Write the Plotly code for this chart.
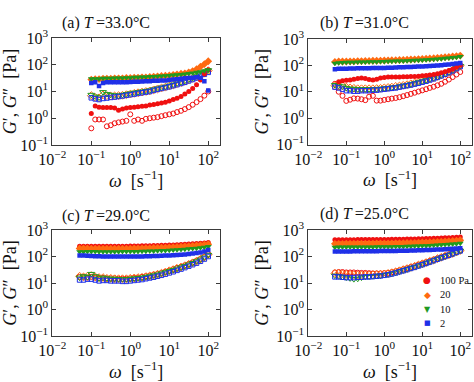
import plotly.graph_objects as go

# ---------------- data ----------------
OMEGA_A = [0.1, 0.126, 0.158, 0.2, 0.251, 0.316, 0.398, 0.501, 0.631, 0.794,
           1.0, 1.26, 1.58, 2.0, 2.51, 3.16, 3.98, 5.01, 6.31, 7.94,
           10.0, 12.6, 15.8, 20.0, 25.1, 31.6, 39.8, 50.1, 63.1, 79.4, 100.0]
OMEGA_BCD = [0.0501, 0.0631, 0.0794,
             0.1, 0.126, 0.158, 0.2, 0.251, 0.316, 0.398, 0.501, 0.631, 0.794,
             1.0, 1.26, 1.58, 2.0, 2.51, 3.16, 3.98, 5.01, 6.31, 7.94,
             10.0, 12.6, 15.8, 20.0, 25.1, 31.6, 39.8, 50.1, 63.1, 79.4, 100.0]

STRESS_LABELS = ["100 Pa", "20", "10", "2"]
TITLES = ["(a) <i>T</i>\u2009=33.0°C", "(b) <i>T</i>\u2009=31.0°C",
          "(c) <i>T</i>\u2009=29.0°C", "(d) <i>T</i>\u2009=25.0°C"]

# panel (a)  T = 33.0 C
a_red_G1 = [1.5, 2.9, 2.6, 2.5, 2.5, 2.5, 2.4, 2.0, 2.2, 2.4, 2.5, 2.6, 2.7, 2.8, 2.9, 3.1, 3.3, 3.5, 3.7, 4.0, 4.4, 5.0, 5.6, 6.5, 8.0, 10, 13, 18, 27, 45, 65]
a_org_G1 = [28, 29, 29, 30, 30, 30, 31, 31, 31, 32, 32, 33, 33, 34, 34, 35, 36, 37, 38, 39, 40, 42, 44, 46, 48, 52, 58, 68, 85, 105, 135]
a_grn_G1 = [30, 30, 30, 31, 31, 31, 32, 32, 32, 33, 33, 34, 34, 35, 35, 36, 36, 37, 38, 39, 40, 41, 42, 43, 45, 47, 49, 52, 55, 60, 65]
a_blu_G1 = [21, 22, 16, 21, 22, 22, 22, 22, 22, 22, 22.5, 23, 23, 23.5, 24, 24, 25, 25, 26, 26, 27, 28, 29, 30, 31, 32, 33, 34, 33, 24, 11]
a_red_G2 = [0.42, 0.9, 0.9, 0.9, 0.5, 0.55, 0.65, 0.7, 0.75, 0.8, 1.4, 0.8, 0.9, 0.8, 0.95, 1.0, 1.05, 1.1, 1.2, 1.3, 1.4, 1.5, 1.7, 1.9, 2.2, 2.6, 3.2, 4.0, 5.2, 7.0, 10]
a_org_G2 = [7.0, 6.0, 5.8, 7.5, 7.0, 6.8, 6.8, 7.0, 7.2, 7.6, 8.0, 8.5, 9.0, 9.5, 10, 10.5, 11.5, 12.5, 13.5, 14.5, 16, 17.5, 19.5, 21.5, 24, 27, 31, 36, 42, 50, 60]
a_grn_G2 = [7.5, 6.5, 6.0, 9.5, 8.0, 7.5, 7.2, 7.0, 7.5, 8.0, 8.5, 9.0, 9.5, 10, 10.5, 11, 12, 13, 14, 15, 16.5, 18, 20, 22, 25, 28, 32, 37, 43, 52, 62]
a_blu_G2 = [5.8, 5.3, 5.0, 5.5, 5.7, 6.0, 6.2, 6.5, 6.8, 7.2, 7.6, 8.0, 8.5, 9.0, 9.5, 10, 11, 12, 13, 14, 15, 16.5, 18, 20, 22, 25, 28, 32, 37, 44, 52]

# panel (b)  T = 31.0 C
b_red_G1 = [None, 24, 26, 27, 28, 30, 32, 33, 32, 29, 28, 30, 33, 35, 36, 36, 36, 36, 37, 37, 38, 38, 39, 40, 41, 43, 45, 48, 52, 57, 64, 72, 85, 100]
b_org_G1 = [135, 140, 140, 140, 142, 143, 145, 145, 147, 148, 150, 150, 152, 153, 155, 157, 158, 160, 162, 165, 167, 170, 173, 176, 180, 184, 188, 193, 198, 204, 210, 218, 225, 235]
b_grn_G1 = [120, 125, 128, 130, 130, 132, 133, 134, 135, 136, 137, 138, 139, 140, 142, 143, 145, 147, 148, 150, 152, 155, 158, 160, 163, 167, 171, 175, 180, 185, 190, 197, 205, 215]
b_blu_G1 = [72, 74, 75, 75, 76, 76, 77, 77, 78, 78, 79, 79, 80, 80, 81, 82, 83, 84, 85, 86, 87, 88, 90, 91, 93, 95, 97, 99, 102, 105, 108, 112, 117, 123]
b_red_G2 = [20, 10, 7, 4.5, 5.0, 5.6, 5.5, 5.2, 4.8, 6.5, 7.0, 4.6, 4.6, 4.9, 5.2, 5.5, 5.8, 6.2, 6.8, 7.5, 8.3, 9.2, 10.2, 11.3, 12.5, 14, 15.5, 17.5, 20, 24, 29, 36, 45, 56]
b_org_G2 = [17, 16, 17, 15, 14, 13.5, 13, 13, 13, 13, 13, 13.2, 13.5, 14, 14.5, 15, 16, 16.5, 17.5, 18.5, 20, 21.5, 23.5, 25.5, 28, 31, 34, 38, 43, 49, 56, 66, 80, 98]
b_grn_G2 = [18, 17, 16, 14, 13, 13, 12.5, 12.5, 12.5, 12.5, 12.5, 12.8, 13, 13.5, 14, 14.5, 15, 16, 17, 18, 19.5, 21, 23, 25, 27.5, 30, 33, 37, 42, 48, 55, 65, 78, 95]
b_blu_G2 = [15, 14, 12.5, 11, 11, 10.5, 10.5, 11, 11, 11, 11.5, 11.5, 12, 12.5, 13, 13.5, 14, 15, 16, 17, 18, 19.5, 21, 23, 25, 28, 31, 35, 40, 46, 53, 62, 75, 90]

# panel (c)  T = 29.0 C
c_red_G1 = [245, 245, 245, 245, 245, 245, 245, 245, 245, 245, 245, 245, 246, 247, 248, 250, 252, 254, 256, 258, 260, 263, 266, 270, 274, 278, 283, 288, 294, 300, 307, 315, 325, 335]
c_org_G1 = [200, 200, 200, 198, 198, 197, 197, 197, 197, 197, 197, 197, 198, 199, 200, 201, 203, 205, 207, 209, 212, 215, 218, 221, 225, 229, 234, 239, 245, 252, 260, 268, 278, 290]
c_grn_G1 = [150, 152, 153, 153, 153, 152, 152, 152, 152, 152, 152, 153, 153, 154, 155, 156, 157, 159, 161, 163, 165, 167, 170, 173, 176, 180, 184, 189, 194, 200, 207, 215, 225, 240]
c_blu_G1 = [108, 108, 106, 104, 103, 102, 101, 100, 99, 99, 99, 99, 99, 99, 100, 100, 101, 102, 103, 104, 105, 106, 108, 110, 112, 114, 117, 120, 124, 129, 135, 143, 155, 175]
c_red_G2 = [17, 17, 16, 17, 16, 15.5, 15.5, 15, 15, 15, 14.5, 14.5, 14.5, 15, 15.5, 16, 17, 18, 19, 20.5, 22, 24, 26.5, 29.5, 33, 37, 41, 46, 52, 60, 69, 81, 97, 122]
c_org_G2 = [18, 17, 18, 19, 17, 16, 16, 15, 15, 14.5, 14.5, 14.5, 14.5, 15, 15.5, 16, 16.5, 17.5, 18.5, 20, 21.5, 23.5, 26, 29, 32, 36, 40, 45, 51, 58, 67, 79, 95, 120]
c_grn_G2 = [16, 18, 17, 22, 18, 15, 16, 15, 14.5, 14.5, 14, 14, 14, 14.5, 15, 15.5, 16, 17, 18, 19.5, 21, 23, 25.5, 28, 31, 35, 39, 44, 50, 57, 66, 77, 92, 115]
c_blu_G2 = [13, 13, 14, 14, 13, 12, 12.5, 12.5, 12, 12, 12, 11.5, 11.5, 12, 12.5, 13, 13.5, 14.5, 15.5, 16.5, 18, 19.5, 21.5, 24, 26.5, 30, 33.5, 38, 43, 49, 56, 66, 80, 100]

# panel (d)  T = 25.0 C
d_red_G1 = [430, 430, 430, 430, 432, 432, 434, 434, 435, 436, 437, 438, 439, 440, 442, 444, 446, 448, 450, 453, 456, 460, 464, 468, 473, 478, 484, 490, 497, 505, 514, 524, 535, 550]
d_org_G1 = [300, 302, 302, 303, 303, 304, 305, 305, 306, 307, 308, 309, 310, 311, 312, 314, 316, 318, 320, 323, 326, 329, 333, 337, 341, 346, 351, 357, 363, 370, 378, 387, 397, 410]
d_grn_G1 = [225, 226, 226, 226, 227, 227, 228, 228, 229, 229, 230, 231, 232, 233, 234, 235, 237, 239, 241, 243, 245, 248, 251, 254, 257, 261, 265, 270, 275, 281, 288, 296, 305, 315]
d_blu_G1 = [155, 156, 156, 156, 156, 157, 157, 157, 158, 158, 159, 159, 160, 160, 161, 162, 163, 164, 165, 166, 167, 169, 171, 173, 175, 177, 179, 182, 185, 188, 192, 196, 200, 205]
d_red_G2 = [25, 26, 26, 25, 25, 25, 24.5, 24, 24, 23.5, 23, 23, 23, 23.5, 24, 25.5, 27.5, 30, 33, 36, 40, 44, 49, 55, 61, 68, 76, 85, 95, 106, 118, 132, 150, 172]
d_org_G2 = [23, 23, 22, 21, 21, 20.5, 20, 20, 20, 20, 20.5, 21, 21.5, 22, 23, 24.5, 26.5, 29, 32, 35, 39, 43, 48, 53, 59, 66, 74, 83, 93, 104, 116, 130, 147, 168]
d_grn_G2 = [19, 18, 17, 16, 15, 14, 14.5, 16, 17, 17.5, 18, 18.5, 19, 20, 21, 22.5, 24.5, 27, 30, 33, 36.5, 40, 45, 50, 56, 63, 71, 80, 90, 101, 113, 127, 144, 165]
d_blu_G2 = [17, 17, 16.5, 16, 16, 16, 16.5, 16.5, 17, 17, 17.5, 18, 18.5, 19.5, 20.5, 22, 24, 26.5, 29, 32, 35.5, 39, 44, 49, 55, 62, 70, 79, 89, 100, 112, 126, 143, 163]

X_TICKVALS = [0.01, 0.1, 1, 10, 100]
X_TICKTEXT = ["10<sup>\u22122</sup>", "10<sup>\u22121</sup>", "10<sup>0</sup>", "10<sup>1</sup>", "10<sup>2</sup>"]
Y_TICKVALS = [0.1, 1, 10, 100, 1000]
Y_TICKTEXT = ["10<sup>\u22121</sup>", "10<sup>0</sup>", "10<sup>1</sup>", "10<sup>2</sup>", "10<sup>3</sup>"]

# ---------------- styling ----------------
COLORS = ["#f01010", "#ff6a10", "#1f9a1f", "#1f30e8"]
SYMBOLS = ["circle", "diamond", "triangle-down", "square"]
SIZES = [5, 6, 6, 4.5]
SERIF = "Liberation Serif, Times New Roman, serif"
AXC = "#3a3a3a"

panels = [
    (OMEGA_A, [a_red_G1, a_org_G1, a_grn_G1, a_blu_G1], [a_red_G2, a_org_G2, a_grn_G2, a_blu_G2]),
    (OMEGA_BCD, [b_red_G1, b_org_G1, b_grn_G1, b_blu_G1], [b_red_G2, b_org_G2, b_grn_G2, b_blu_G2]),
    (OMEGA_BCD, [c_red_G1, c_org_G1, c_grn_G1, c_blu_G1], [c_red_G2, c_org_G2, c_grn_G2, c_blu_G2]),
    (OMEGA_BCD, [d_red_G1, d_org_G1, d_grn_G1, d_blu_G1], [d_red_G2, d_org_G2, d_grn_G2, d_blu_G2]),
]

W, H = 474, 382
def px_x(p): return p / W
def px_y(p): return 1 - p / H

x_domains = [[px_x(52.3), px_x(220)], [px_x(308.3), px_x(471.7)],
             [px_x(52.3), px_x(220)], [px_x(308.3), px_x(471.7)]]
y_domains = [[px_y(145), px_y(38)], [px_y(144.5), px_y(39)],
             [px_y(336), px_y(230)], [px_y(336), px_y(230)]]

fig = go.Figure()

for p, (om, g1s, g2s) in enumerate(panels):
    xa = "x" if p == 0 else f"x{p+1}"
    ya = "y" if p == 0 else f"y{p+1}"
    # loss modulus G'' (open)
    for k in range(4):
        fig.add_trace(go.Scatter(
            x=om, y=g2s[k], mode="markers", xaxis=xa, yaxis=ya, showlegend=False,
            marker=dict(symbol=SYMBOLS[k] + "-open", size=SIZES[k], color=COLORS[k],
                        line=dict(width=1, color=COLORS[k])),
            name=f"G'' {STRESS_LABELS[k]}"))
    # storage modulus G' (filled)
    for k in range(4):
        fig.add_trace(go.Scatter(
            x=om, y=g1s[k], mode="markers", xaxis=xa, yaxis=ya, showlegend=False,
            marker=dict(symbol=SYMBOLS[k], size=SIZES[k], color=COLORS[k], line=dict(width=0)),
            name=f"G' {STRESS_LABELS[k]}"))

layout = dict(width=W, height=H, margin=dict(l=0, r=0, t=0, b=0, autoexpand=False),
              plot_bgcolor="white", paper_bgcolor="white",
              font=dict(family=SERIF, size=15, color="#111"), showlegend=False)

for p in range(4):
    sx = "xaxis" if p == 0 else f"xaxis{p+1}"
    sy = "yaxis" if p == 0 else f"yaxis{p+1}"
    anchor_x = "y" if p == 0 else f"y{p+1}"
    anchor_y = "x" if p == 0 else f"x{p+1}"
    common = dict(type="log", showgrid=False, zeroline=False, showline=True, automargin=False,
                  linecolor=AXC, linewidth=1, mirror="ticks", ticks="inside",
                  ticklen=4, tickcolor=AXC, tickfont=dict(family=SERIF, size=16, color="#111"))
    layout[sx] = dict(common, domain=x_domains[p], anchor=anchor_x, range=[-2, 2.301],
                      tickvals=X_TICKVALS, ticktext=X_TICKTEXT,
                      title=dict(text="<i>\u03c9</i>  [s<sup>\u22121</sup>]",
                                 font=dict(family=SERIF, size=18), standoff=0))
    layout[sy] = dict(common, domain=y_domains[p], anchor=anchor_y, range=[-1, 3],
                      tickvals=Y_TICKVALS, ticktext=Y_TICKTEXT,
                      title=dict(text="<i>G</i>\u2032, <i>G</i>\u2033  [Pa]",
                                 font=dict(family=SERIF, size=18), standoff=2))

fig.update_layout(**layout)

# panel titles
title_pos = [(106, 23), (364, 23), (106, 216), (364, 214)]
for t, (cx, cy) in zip(TITLES, title_pos):
    fig.add_annotation(text=t, x=px_x(cx), y=px_y(cy), xref="paper", yref="paper",
                       showarrow=False, xanchor="center", yanchor="middle",
                       font=dict(family=SERIF, size=16, color="#111"))

# legend key inside panel (d)
glyphs = ["\u25cf", "\u25c6", "\u25bc", "\u25a0"]
glyph_sizes = [9, 9, 8, 7]
rows = [280, 294.5, 309, 323]
for k in range(4):
    fig.add_annotation(text=glyphs[k], x=px_x(427), y=px_y(rows[k]), xref="paper", yref="paper",
                       showarrow=False, xanchor="center", yanchor="middle",
                       font=dict(family="DejaVu Sans", size=glyph_sizes[k], color=COLORS[k]))
    fig.add_annotation(text=STRESS_LABELS[k], x=px_x(438), y=px_y(rows[k]), xref="paper", yref="paper",
                       showarrow=False, xanchor="left", yanchor="middle",
                       font=dict(family=SERIF, size=10.5, color="#111"))

fig.write_html("out.html", config={"displayModeBar": False},
               post_script="document.body.style.margin='0';document.body.style.overflow='hidden';")
